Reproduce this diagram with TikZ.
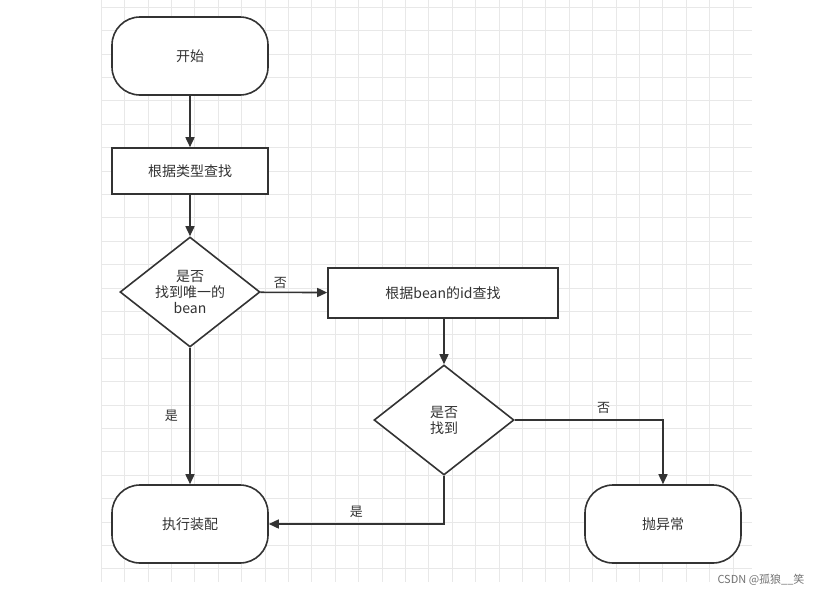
\documentclass[tikz,border=0pt]{standalone}
\usepackage{fontspec}
\setmainfont{Noto Sans CJK SC}
\usetikzlibrary{shapes.geometric,arrows.meta}
\begin{document}
\begin{tikzpicture}[x=1pt,y=-1pt,
  every node/.style={font=\fontsize{14}{16}\selectfont,text=black!80},
  term/.style={draw=black!80,line width=1.6pt,rounded corners=28pt,minimum width=156pt,minimum height=78pt,fill=white},
  proc/.style={draw=black!80,line width=1.6pt,minimum height=46pt,fill=white},
  dec/.style={draw=black!80,line width=1.6pt,diamond,aspect=1.27,minimum width=140pt,minimum height=110pt,inner sep=0pt,fill=white,align=center},
  arr/.style={draw=black!80,line width=1.6pt,-{Triangle[length=10pt,width=9pt]}},
  lab/.style={font=\fontsize{13}{15}\selectfont}]
\useasboundingbox (0,0) rectangle (822,598);
\fill[white] (0,0) rectangle (822,598);
\foreach \i in {0,...,27} {\draw[black!9,line width=0.6pt] (101+23.4*\i,0) -- (101+23.4*\i,582);}
\foreach \j in {0,...,24} {\draw[black!9,line width=0.6pt] (101,23.4*\j+7) -- (752,23.4*\j+7);}
\node[term] (s) at (190,56) {开始};
\node[proc,minimum width=156pt] (b1) at (190,171) {根据类型查找};
\node[dec] (d1) at (190,292) {是否\\找到唯一的\\bean};
\node[proc,minimum width=230pt,minimum height=50pt] (b2) at (443,293) {根据bean的id查找};
\node[dec] (d2) at (444,420) {是否\\找到};
\node[term] (e) at (190,524) {执行装配};
\node[term] (x) at (663,524) {抛异常};
\draw[arr] (s) -- (b1);
\draw[arr] (b1) -- (d1);
\draw[arr] (d1) -- (b2) node[lab,pos=0.3,above] {否};
\draw[arr] (d1) -- (e) node[lab,pos=0.5,left=8pt] {是};
\draw[arr] (b2.south -| d2) -- (d2);
\draw[arr] (d2.east) -| (x.north) node[lab,pos=0.3,above=2pt] {否};
\draw[arr] (d2.south) |- (e.east) node[lab,pos=0.75,above=2pt] {是};
\node[font=\fontsize{11}{13}\selectfont,text=black!55,anchor=east] (w) at (808,580) {CSDN @孤狼\_\_笑};
\end{tikzpicture}
\end{document}
